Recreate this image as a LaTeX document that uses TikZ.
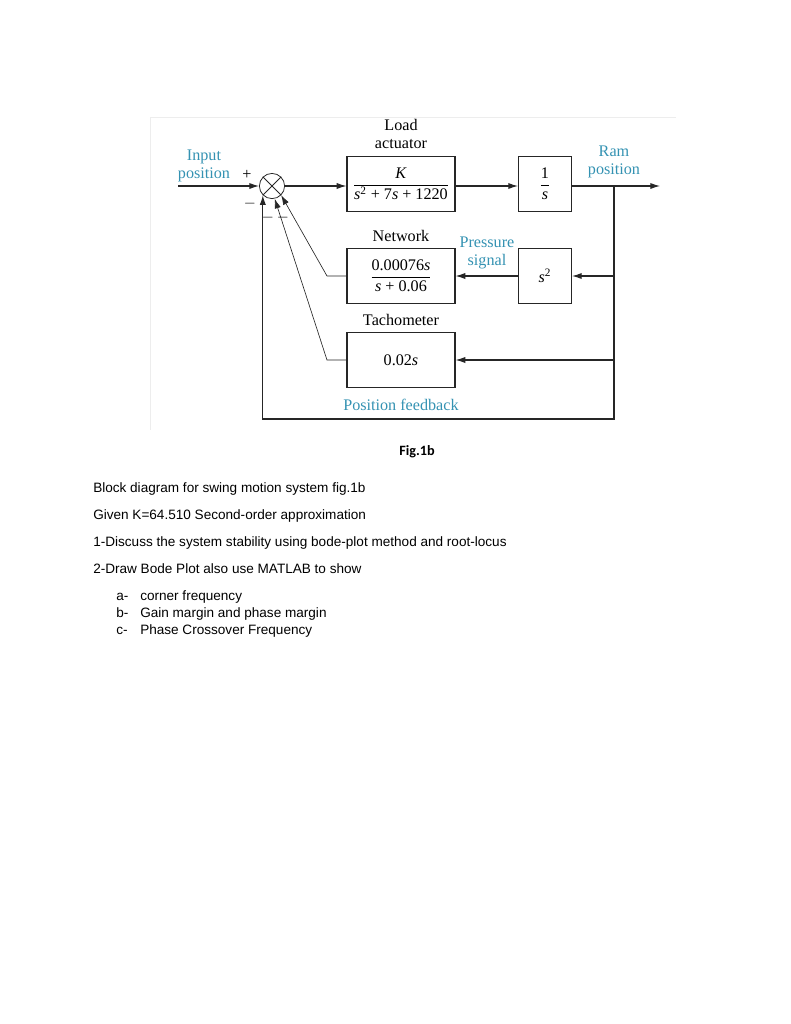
\documentclass[tikz,border=0pt]{standalone}
\usepackage{fontspec}
\setmainfont{Liberation Serif}
\newfontfamily\bodyfont{Liberation Sans}
\newfontfamily\capfont{Carlito}
\usetikzlibrary{arrows.meta}
\definecolor{labelblue}{RGB}{52,146,178}
\newcommand{\sv}{\textit{s}}

\begin{document}
\begin{tikzpicture}[x=0.7737pt,y=-0.7737pt,
  blk/.style={draw=black!85,line width=0.85pt,minimum width=83.6pt,minimum height=42.6pt,inner sep=0pt,font=\fontsize{12.5}{14}\selectfont},
  sblk/.style={blk,minimum width=41pt},
  lbl/.style={font=\fontsize{12.5}{14}\selectfont,inner sep=0pt,align=center},
  clbl/.style={lbl,text=labelblue},
  sig/.style={draw=black!85,line width=0.85pt,-{Latex[length=7.5pt,width=4.8pt]}},
  thinsig/.style={sig,line width=0.5pt},
  txt/.style={font=\bodyfont\fontsize{10.5}{13}\selectfont,anchor=base west,inner sep=0pt}]
\useasboundingbox (0,0) rectangle (791,1024);
\draw [black!7] (150,430) -- (150,117) -- (676,117);
\node [draw=black!85,circle,line width=0.6pt,minimum size=19.5pt,inner sep=0pt] (sum) at (272,186) {};
\draw [black!85,line width=0.6pt] (sum.45) -- (sum.-135) (sum.135) -- (sum.-45);
\coordinate (in) at (178,186);
\node [blk] (act) at (401,184) {$\displaystyle\frac{\mbox{\textit{K}}}{\mbox{\sv\textsuperscript{2} + 7\sv{} + 1220}}$};
\node [sblk] (integ) at (545,184) {$\displaystyle\frac{\mbox{1}}{\mbox{\sv}}$};
\coordinate (br) at (614,186);
\coordinate (out) at (660,186);
\node [blk] (net) at (401,276) {$\displaystyle\frac{\mbox{0.00076\sv}}{\mbox{\sv{} + 0.06}}$};
\node [sblk] (sq) at (545,276) {\sv\textsuperscript{2}};
\node [blk] (tach) at (401,360) {0.02\sv};
\coordinate (fb) at (614,419);
\coordinate (nk) at (327,276);
\coordinate (tk) at (327,360);
\draw [sig] (in) -- (sum);
\draw [sig] (sum) -- (sum -| act.west);
\draw [sig] (act.east |- br) -- (integ.west |- br);
\draw [sig] (integ.east |- br) -- (out);
\draw [sig] (br) -- (fb) -| (sum.-135);
\draw [sig] (sq -| br) -- (sq);
\draw [sig] (sq) -- (net);
\draw [sig] (tach -| br) -- (tach);
\draw [thinsig] (net) -- (nk) -- (sum.-45);
\draw [thinsig] (tach) -- (tk) -- (sum.-78);
\node [clbl] (inlbl) at (204,166) {Input\\position};
\node [lbl] (plus) at (247,175) {+};
\node [lbl] (min1) at (250,204) {$-$};
\node [lbl] (min2) at (268,218) {$-$};
\node [lbl] (min3) at (283,218) {$-$};
\node [lbl] (actlbl) at (401,134) {Load\\actuator};
\node [clbl] (ramlbl) at (614,162) {Ram\\position};
\node [lbl] (netlbl) at (401,236) {Network};
\node [clbl] (prlbl) at (487,253) {Pressure\\signal};
\node [lbl] (tachlbl) at (401,320) {Tachometer};
\node [clbl] (fblbl) at (401,405) {Position feedback};
\node [font=\capfont\bfseries\fontsize{11}{13}\selectfont,inner sep=0pt] (cap) at (417,452) {Fig.1b};
\node [txt] (t1) at (93,492) {Block diagram for swing motion system fig.1b};
\node [txt] (t2) at (93,519) {Given K=64.510 Second-order approximation};
\node [txt] (t3) at (93,546) {1-Discuss the system stability using bode-plot method and root-locus};
\node [txt] (t4) at (93,573) {2-Draw Bode Plot also use MATLAB to show};
\node [txt] (a) at (116,600) {a-};
\node [txt] (ta) at (140,600) {corner frequency};
\node [txt] (b) at (116,617) {b-};
\node [txt] (tb) at (140,617) {Gain margin and phase margin};
\node [txt] (c) at (116,634) {c-};
\node [txt] (tc) at (140,634) {Phase Crossover Frequency};
\end{tikzpicture}
\end{document}
